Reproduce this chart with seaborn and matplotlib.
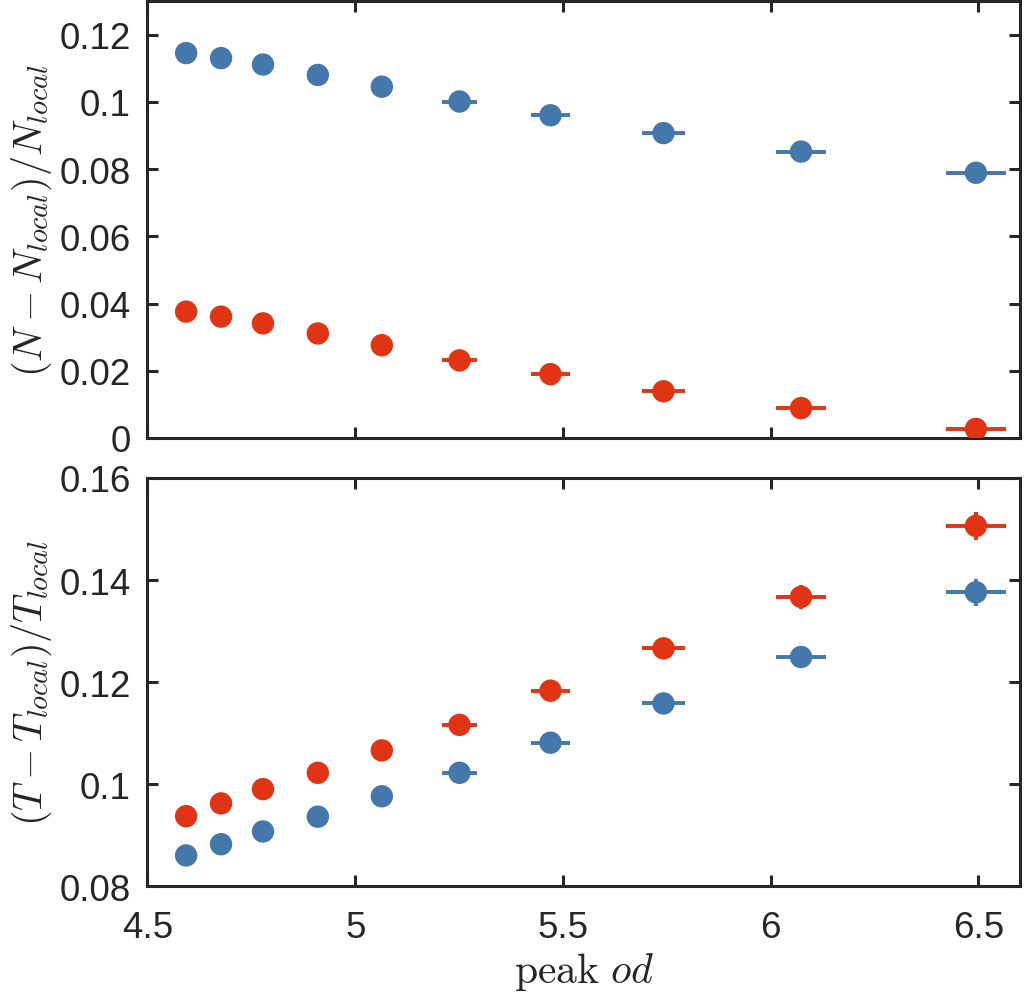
import numpy as np
import pandas as pd
import seaborn as sns
import matplotlib.pyplot as plt

# peak od values (x axis)
peak_od = [4.593, 4.677, 4.778, 4.910, 5.064, 5.251, 5.470, 5.742, 6.073, 6.494]
od_err = [0.008, 0.010, 0.012, 0.016, 0.020, 0.043, 0.046, 0.051, 0.060, 0.072]

# top panel: (N - N_local)/N_local
n_blue = [0.1145, 0.1130, 0.1111, 0.1080, 0.1045, 0.1001, 0.0960, 0.0907, 0.0852, 0.0789]
n_red = [0.0376, 0.0361, 0.0341, 0.0311, 0.0276, 0.0231, 0.0190, 0.0139, 0.0089, 0.0027]

# bottom panel: (T - T_local)/T_local
t_red = [0.0937, 0.0962, 0.0990, 0.1022, 0.1066, 0.1116, 0.1183, 0.1266, 0.1367, 0.1506]
t_blue = [0.0860, 0.0882, 0.0907, 0.0936, 0.0976, 0.1022, 0.1081, 0.1158, 0.1249, 0.1376]
t_red_err = [0.0005, 0.0006, 0.0007, 0.0008, 0.0010, 0.0012, 0.0015, 0.0018, 0.0024, 0.0027]
t_blue_err = [0.0005, 0.0006, 0.0007, 0.0008, 0.0010, 0.0012, 0.0015, 0.0018, 0.0022, 0.0026]

blue = '#4477AA'
red = '#E03414'

sns.set_theme(style='ticks')
plt.rcParams['font.family'] = ['Liberation Sans', 'DejaVu Sans']
plt.rcParams['mathtext.fontset'] = 'cm'
plt.rcParams['axes.linewidth'] = 2.2
plt.rcParams['axes.edgecolor'] = '#262626'

fig = plt.figure(figsize=(10.25, 9.95), dpi=100)
ax1 = fig.add_axes([0.1439, 0.5588, 0.9951 - 0.1439, 0.998 - 0.5588])
ax2 = fig.add_axes([0.1439, 0.1085, 0.9951 - 0.1439, 0.5186 - 0.1085])

top = pd.DataFrame({'od': peak_od * 2, 'val': n_blue + n_red,
                    'series': ['blue'] * 10 + ['red'] * 10})
bot = pd.DataFrame({'od': peak_od * 2, 'val': t_blue + t_red,
                    'series': ['blue'] * 10 + ['red'] * 10})

# error bars first, markers on top
ax1.errorbar(peak_od, n_blue, xerr=od_err, fmt='none', ecolor=blue, elinewidth=2.8, capsize=0)
ax1.errorbar(peak_od, n_red, xerr=od_err, fmt='none', ecolor=red, elinewidth=2.8, capsize=0)
ax2.errorbar(peak_od, t_blue, xerr=od_err, yerr=t_blue_err, fmt='none', ecolor=blue, elinewidth=2.8, capsize=0)
ax2.errorbar(peak_od, t_red, xerr=od_err, yerr=t_red_err, fmt='none', ecolor=red, elinewidth=2.8, capsize=0)

pal = {'blue': blue, 'red': red}
sns.scatterplot(data=top, x='od', y='val', hue='series', palette=pal, s=260,
                linewidth=0, legend=False, ax=ax1, zorder=3)
sns.scatterplot(data=bot, x='od', y='val', hue='series', palette=pal, s=260,
                linewidth=0, legend=False, ax=ax2, zorder=3)

ax1.set_xlim(4.5, 6.6)
ax2.set_xlim(4.5, 6.6)
ax1.set_ylim(0, 0.13)
ax2.set_ylim(0.08, 0.16)

ax1.set_yticks([0, 0.02, 0.04, 0.06, 0.08, 0.1, 0.12])
ax1.set_yticklabels(['0', '0.02', '0.04', '0.06', '0.08', '0.1', '0.12'])
ax2.set_yticks([0.08, 0.1, 0.12, 0.14, 0.16])
ax2.set_yticklabels(['0.08', '0.1', '0.12', '0.14', '0.16'])
for ax in (ax1, ax2):
    ax.set_xticks([4.5, 5, 5.5, 6, 6.5])
    ax.tick_params(direction='in', length=8, width=2.2, labelsize=26.5,
                   top=True, right=True, colors='#262626', pad=12)
    ax.tick_params(axis='x', pad=17)
    for s in ax.spines.values():
        s.set_visible(True)
ax1.set_xticklabels([])
ax2.set_xticklabels(['4.5', '5', '5.5', '6', '6.5'])

ax1.set_xlabel('')
ax1.set_ylabel(r'$(N-N_{local})/N_{local}$', fontsize=29, labelpad=4)
ax2.set_ylabel(r'$(T-T_{local})/T_{local}$', fontsize=29, labelpad=4)
ax2.set_xlabel(r'$\mathrm{peak}\ od$', fontsize=30, labelpad=4)

fig.savefig('out.png', dpi=100)
